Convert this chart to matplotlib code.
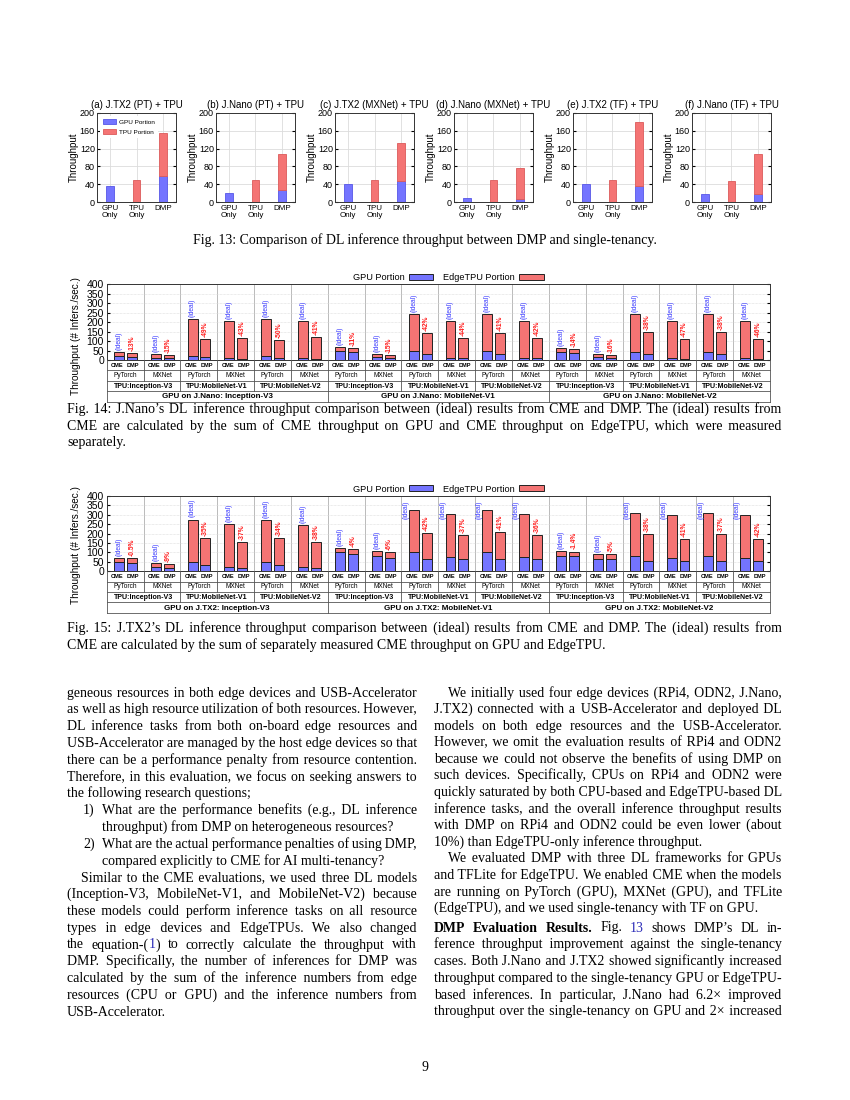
import re
import matplotlib
matplotlib.use('Agg')
import matplotlib.pyplot as plt
import numpy as np

W, H = 850, 1100
SANS = ['Liberation Sans', 'DejaVu Sans']
SERIF = ['Liberation Serif', 'DejaVu Serif']
plt.rcParams['font.family'] = SANS

BLUE = '#7474ff'
RED = '#f47474'
LINK = '#2b2bb8'

# ---- Fig. 13 data
titles13 = ['(a) J.TX2 (PT) + TPU', '(b) J.Nano (PT) + TPU', '(c) J.TX2 (MXNet) + TPU',
            '(d) J.Nano (MXNet) + TPU', '(e) J.TX2 (TF) + TPU', '(f) J.Nano (TF) + TPU']
cats13 = ['GPU\nOnly', 'TPU\nOnly', 'DMP']
gpu_only = [35, 20, 40, 10, 40, 19]
tpu_only = [50, 49, 50, 49, 50, 48]
dmp_gpu13 = [58, 26, 47, 6, 35, 17]
dmp_total13 = [155, 107, 132, 76, 180, 107]

# ---- Fig. 14 / 15 data (18 CME/DMP pairs each)
frameworks = ['PyTorch', 'MXNet'] * 9
tpu_models = ['TPU:Inception-V3', 'TPU:MobileNet-V1', 'TPU:MobileNet-V2'] * 3
gpu_models = ['Inception-V3', 'MobileNet-V1', 'MobileNet-V2']

nano_cme_gpu = [20, 10, 20, 8, 20, 8, 48, 16, 48, 12, 48, 12, 40, 14, 44, 9, 44, 9]
nano_cme_total = [40, 30, 215, 206, 215, 206, 70, 32, 245, 206, 245, 206, 65, 30, 241, 206, 241, 206]
nano_dmp_gpu = [18, 8, 15, 6, 13, 6, 42, 12, 33, 9, 33, 9, 35, 12, 30, 7, 30, 7]
nano_dmp_total = [35, 26, 112, 116, 107, 120, 63, 27, 141, 116, 141, 116, 57, 25, 148, 109, 148, 111]
nano_pct = ['-13%', '-15%', '-49%', '-43%', '-50%', '-41%', '-11%', '-15%', '-42%',
            '-44%', '-41%', '-42%', '-14%', '-16%', '-38%', '-47%', '-38%', '-46%']

tx2_cme_gpu = [48, 21, 48, 21, 48, 21, 101, 82, 101, 75, 101, 75, 84, 68, 84, 71, 84, 71]
tx2_cme_total = [70, 43, 274, 249, 270, 247, 124, 107, 327, 302, 327, 302, 107, 94, 311, 297, 309, 297]
tx2_dmp_gpu = [47, 18, 34, 20, 34, 20, 92, 73, 66, 66, 66, 66, 82, 68, 57, 57, 57, 57]
tx2_dmp_total = [69, 39, 178, 156, 178, 153, 119, 100, 204, 190, 208, 194, 105, 94, 199, 172, 199, 172]
tx2_pct = ['-0.5%', '-9%', '-35%', '-37%', '-34%', '-38%', '-4%', '-6%', '-42%',
           '-37%', '-41%', '-36%', '-1.4%', '-5%', '-38%', '-41%', '-37%', '-42%']

# ---- page text: (x_left, x_right, text, justified)
cap13 = 'Fig. 13: Comparison of DL inference throughput between DMP and single-tenancy.'
cap14 = [(67, 782, 'Fig. 14: J.Nano’s DL inference throughput comparison between (ideal) results from CME and DMP. The (ideal) results from', True),
         (67, 782, 'CME are calculated by the sum of CME throughput on GPU and CME throughput on EdgeTPU, which were measured', True),
         (67, 782, 'separately.', False)]
cap15 = [(67, 782, 'Fig. 15: J.TX2’s DL inference throughput comparison between (ideal) results from CME and DMP. The (ideal) results from', True),
         (67, 782, 'CME are calculated by the sum of separately measured CME throughput on GPU and EdgeTPU.', False)]

left_col = [
    (67, 417, 'geneous resources in both edge devices and USB-Accelerator', True),
    (67, 417, 'as well as high resource utilization of both resources. However,', True),
    (67, 417, 'DL inference tasks from both on-board edge resources and', True),
    (67, 417, 'USB-Accelerator are managed by the host edge devices so that', True),
    (67, 417, 'there can be a performance penalty from resource contention.', True),
    (67, 417, 'Therefore, in this evaluation, we focus on seeking answers to', True),
    (67, 417, 'the following research questions;', False),
    (102, 417, 'What are the performance benefits (e.g., DL inference', True),
    (102, 417, 'throughput) from DMP on heterogeneous resources?', False),
    (102, 417, 'What are the actual performance penalties of using DMP,', True),
    (102, 417, 'compared explicitly to CME for AI multi-tenancy?', False),
    (81, 417, 'Similar to the CME evaluations, we used three DL models', True),
    (67, 417, '(Inception-V3, MobileNet-V1, and MobileNet-V2) because', True),
    (67, 417, 'these models could perform inference tasks on all resource', True),
    (67, 417, 'types in edge devices and EdgeTPUs. We also changed', True),
    (67, 417, 'the equation-({c:1}) to correctly calculate the throughput with', True),
    (67, 417, 'DMP. Specifically, the number of inferences for DMP was', True),
    (67, 417, 'calculated by the sum of the inference numbers from edge', True),
    (67, 417, 'resources (CPU or GPU) and the inference numbers from', True),
    (67, 417, 'USB-Accelerator.', False),
]
right_col = [
    (448, 782, 'We initially used four edge devices (RPi4, ODN2, J.Nano,', True),
    (434, 782, 'J.TX2) connected with a USB-Accelerator and deployed DL', True),
    (434, 782, 'models on both edge resources and the USB-Accelerator.', True),
    (434, 782, 'However, we omit the evaluation results of RPi4 and ODN2', True),
    (434, 782, 'because we could not observe the benefits of using DMP on', True),
    (434, 782, 'such devices. Specifically, CPUs on RPi4 and ODN2 were', True),
    (434, 782, 'quickly saturated by both CPU-based and EdgeTPU-based DL', True),
    (434, 782, 'inference tasks, and the overall inference throughput results', True),
    (434, 782, 'with DMP on RPi4 and ODN2 could be even lower (about', True),
    (434, 782, '10%) than EdgeTPU-only inference throughput.', False),
    (448, 782, 'We evaluated DMP with three DL frameworks for GPUs', True),
    (434, 782, 'and TFLite for EdgeTPU. We enabled CME when the models', True),
    (434, 782, 'are running on PyTorch (GPU), MXNet (GPU), and TFLite', True),
    (434, 782, '(EdgeTPU), and we used single-tenancy with TF on GPU.', False),
    (434, 782, '{b:DMP} {b:Evaluation} {b:Results.} Fig. {c:13} shows DMP’s DL in-', True),
    (434, 782, 'ference throughput improvement against the single-tenancy', True),
    (434, 782, 'cases. Both J.Nano and J.TX2 showed significantly increased', True),
    (434, 782, 'throughput compared to the single-tenancy GPU or EdgeTPU-', True),
    (434, 782, 'based inferences. In particular, J.Nano had 6.2× improved', True),
    (434, 782, 'throughput over the single-tenancy on GPU and 2× increased', True),
]

fig = plt.figure(figsize=(8.5, 11), dpi=100)
fig.patch.set_facecolor('white')


def box(x0, y0, x1, y1):
    # pixel box (top-left origin) -> figure fraction rect
    return [x0 / W, 1 - y1 / H, (x1 - x0) / W, (y1 - y0) / H]


# ================= Fig. 13 =================
lefts13 = [97, 216, 335, 454, 573, 692]
for i in range(6):
    ax = fig.add_axes(box(lefts13[i], 113, lefts13[i] + 79, 202))
    hb = ax.bar([0, 2], [gpu_only[i], dmp_gpu13[i]], 0.3, color=BLUE,
                edgecolor='#5656e6', lw=0.6, zorder=3)
    hr = ax.bar([1, 2], [tpu_only[i], dmp_total13[i] - dmp_gpu13[i]], 0.3,
                bottom=[0, dmp_gpu13[i]], color=RED, edgecolor='#dc5a5a', lw=0.6, zorder=3)
    ax.set_xlim(-0.5, 2.5)
    ax.set_ylim(0, 200)
    ax.set_yticks(range(0, 201, 40))
    ax.set_xticks(range(3))
    ax.set_xticklabels(cats13, fontsize=5.8, linespacing=0.95, va='top')
    ax.tick_params(axis='y', labelsize=6.5, direction='in', length=2, pad=1.5, right=True)
    ax.tick_params(axis='x', length=0, pad=2.5)
    ax.grid(True, color='#dcdcdc', lw=0.6, zorder=0)
    for s in ax.spines.values():
        s.set_linewidth(0.7)
        s.set_color('#333333')
    ax.set_ylabel('Throughput', fontsize=7, labelpad=0.5)
    ax.set_title(titles13[i], fontsize=7, pad=3.5)
    if i == 0:
        ax.legend([hb, hr], ['GPU Portion', 'TPU Portion'], loc='upper left',
                  fontsize=4.6, handlelength=2.0, handleheight=0.8, labelspacing=0.6,
                  borderpad=0.5, handletextpad=0.5, frameon=True, fancybox=False,
                  edgecolor='none', framealpha=1)

fig.text(425 / W, 1 - 244 / H, cap13, ha='center', va='baseline', fontsize=10, family=SERIF)


# ================= Fig. 14 / 15 =================
def cme_figure(top, device, cme_gpu, cme_total, dmp_gpu, dmp_total, pct, label_y):
    bottom = top + 75.7
    ax = fig.add_axes(box(106.7, top, 770, bottom))
    g = np.arange(18)
    xc = g + 0.33
    xd = g + 0.68
    cme_gpu = np.array(cme_gpu)
    cme_total = np.array(cme_total)
    dmp_gpu = np.array(dmp_gpu)
    dmp_total = np.array(dmp_total)
    hb = ax.bar(xc, cme_gpu, 0.27, color=BLUE, edgecolor='#222222', lw=0.7, zorder=3)
    hr = ax.bar(xc, cme_total - cme_gpu, 0.27, bottom=cme_gpu, color=RED,
                edgecolor='#222222', lw=0.7, zorder=3)
    ax.bar(xd, dmp_gpu, 0.27, color=BLUE, edgecolor='#222222', lw=0.7, zorder=3)
    ax.bar(xd, dmp_total - dmp_gpu, 0.27, bottom=dmp_gpu, color=RED,
           edgecolor='#222222', lw=0.7, zorder=3)
    for k in range(18):
        if cme_total[k] > 290:
            # no room above the bar: tuck the label beside the bar, under the top
            ax.text(g[k] + 0.12, 372, '(ideal)', rotation=90, ha='center', va='top',
                    fontsize=4.8, color='#3a3aff', zorder=4)
        else:
            ax.annotate('(ideal)', (xc[k], cme_total[k]), xytext=(0, 1.5),
                        textcoords='offset points', rotation=90, ha='center', va='bottom',
                        fontsize=4.8, color='#3a3aff')
        ax.annotate(pct[k], (xd[k], dmp_total[k]), xytext=(0, 1.5), textcoords='offset points',
                    rotation=90, ha='center', va='bottom', fontsize=4.8, color='#ff1c1c',
                    fontweight='bold')
    ax.set_xlim(0, 18)
    ax.set_ylim(0, 400)
    ax.set_yticks(range(0, 401, 50))
    ax.set_xticks([])
    ax.yaxis.grid(True, color='#d8d8d8', lw=0.5, ls=(0, (1, 1)))
    for v in range(1, 18):
        ax.axvline(v, color='#b0b0b0', lw=0.6, zorder=1)
    ax.tick_params(axis='y', labelsize=7.5, direction='in', length=2.5, right=True, pad=2)
    for s in ax.spines.values():
        s.set_linewidth(0.7)
        s.set_color('#333333')
    ax.legend([hb, hr], ['GPU Portion', 'EdgeTPU Portion'], ncol=2, loc='center',
              bbox_to_anchor=(0.515, 1 + 6.6 / 75.7), frameon=False, markerfirst=False,
              fontsize=6.6, handlelength=2.7, handleheight=0.6, columnspacing=1.1,
              handletextpad=0.4, borderpad=0)

    # label table under the bars
    tab = fig.add_axes(box(106.7, bottom, 770, bottom + 42))
    tab.set_xlim(0, 18)
    tab.set_ylim(42, 0)
    tab.axis('off')
    rows = [0, 10.3, 20.6, 31, 42]
    lc = '#555555'
    for r in rows[1:]:
        tab.plot([0, 18], [r, r], color=lc, lw=0.6, clip_on=False)
    for v in range(0, 19):
        if v % 6 == 0:
            end = rows[4]
        elif v % 2 == 0:
            end = rows[3]
        else:
            end = rows[2]
        tab.plot([v, v], [0, end], color=lc, lw=0.6, clip_on=False)
    for k in range(18):
        tab.text(k + 0.29, 5.3, 'CME', ha='center', va='center', fontsize=4.1, fontweight='bold')
        tab.text(k + 0.72, 5.3, 'DMP', ha='center', va='center', fontsize=4.1, fontweight='bold')
        tab.text(k + 0.5, 15.6, frameworks[k], ha='center', va='center', fontsize=4.7)
    for k in range(9):
        tab.text(2 * k + 1, 26, tpu_models[k], ha='center', va='center', fontsize=5.1,
                 fontweight='bold')
    for k in range(3):
        tab.text(6 * k + 3, 36.7, 'GPU on ' + device + ': ' + gpu_models[k], ha='center',
                 va='center', fontsize=5.8, fontweight='bold')
    fig.text(76 / W, 1 - label_y / H, 'Throughput (# Infers./sec.)', rotation=90,
             ha='center', va='center', fontsize=7.2)


cme_figure(284.3, 'J.Nano', nano_cme_gpu, nano_cme_total, nano_dmp_gpu, nano_dmp_total,
           nano_pct, 336)
cme_figure(495.7, 'J.TX2', tx2_cme_gpu, tx2_cme_total, tx2_dmp_gpu, tx2_dmp_total,
           tx2_pct, 545)

# ================= body text (justified by hand) =================
renderer = fig.canvas.get_renderer()


def width_of(s, **kw):
    t = fig.text(0, 0, s, fontsize=10, family=SERIF, **kw)
    w = t.get_window_extent(renderer).width
    t.remove()
    return w


# unicode spaces of various widths, used to stretch one-string lines
space_w = {}
for c in ['\u2003', '\u2002', '\u2004', ' ', '\u2005', '\u2009', '\u2006', '\u200a']:
    w = (width_of('x' + c * 8 + 'x') - width_of('xx')) / 8
    if w > 0.4:
        space_w[c] = w
space_order = sorted(space_w, key=lambda c: -space_w[c])


def fill(gap):
    s = ''
    used = 0
    for c in space_order:
        while used + space_w[c] <= gap + 0.35:
            s += c
            used += space_w[c]
    if not s:
        s = ' '
        used = space_w.get(' ', 3.5)
    return s, used


def segments(word):
    out = []
    for p in re.split(r'(\{[bc]:[^}]*\})', word):
        if not p:
            continue
        if p.startswith('{b:'):
            out.append((p[3:-1], {'fontweight': 'bold'}))
        elif p.startswith('{c:'):
            out.append((p[3:-1], {'color': LINK}))
        else:
            out.append((p, {}))
    return out


def put_line(x0, x1, y, text, justify, size=10):
    words = text.split(' ')
    if '{' not in text:
        # plain line: one text object, gaps filled with unicode spaces
        if not justify or len(words) < 2:
            fig.text(x0 / W, 1 - y / H, text, fontsize=size, family=SERIF, va='baseline')
            return
        widths = [width_of(w) for w in words]
        gap = (x1 - x0 - sum(widths)) / (len(words) - 1)
        s = words[0]
        cur = widths[0]
        for k in range(1, len(words)):
            target = sum(widths[:k + 1]) - widths[k] + k * gap
            sp, used = fill(target - cur)
            s += sp + words[k]
            cur += used + widths[k]
        fig.text(x0 / W, 1 - y / H, s, fontsize=size, family=SERIF, va='baseline')
        return
    # styled line: place word pieces one by one
    pieces = []
    total = 0
    for w in words:
        segs = []
        for s, kw in segments(w):
            t = fig.text(0, 1 - y / H, s, fontsize=size, family=SERIF, va='baseline', **kw)
            wd = t.get_window_extent(renderer).width
            segs.append((t, wd))
            total += wd
        pieces.append(segs)
    gap = (x1 - x0 - total) / (len(pieces) - 1) if justify else 3.5
    x = x0
    for segs in pieces:
        for t, wd in segs:
            t.set_x(x / W)
            x += wd
        x += gap


for j, (x0, x1, s, jf) in enumerate(cap14):
    put_line(x0, x1, 413 + j * 16.6, s, jf)
for j, (x0, x1, s, jf) in enumerate(cap15):
    put_line(x0, x1, 632 + j * 16.6, s, jf)

for j, (x0, x1, s, jf) in enumerate(left_col):
    put_line(x0, x1, 696.5 + j * 16.8, s, jf)
fig.text(83 / W, 1 - (696.5 + 7 * 16.8) / H, '1)', fontsize=10, family=SERIF, va='baseline')
fig.text(83 / W, 1 - (696.5 + 9 * 16.8) / H, '2)', fontsize=10, family=SERIF, va='baseline')

for j, (x0, x1, s, jf) in enumerate(right_col):
    y = 696.5 + j * 16.6 if j < 14 else 931.5 + (j - 14) * 16.8
    put_line(x0, x1, y, s, jf)

fig.text(425 / W, 1 - 1071 / H, '9', ha='center', va='baseline', fontsize=10, family=SERIF)

fig.savefig('out.png', dpi=100, facecolor='white')
